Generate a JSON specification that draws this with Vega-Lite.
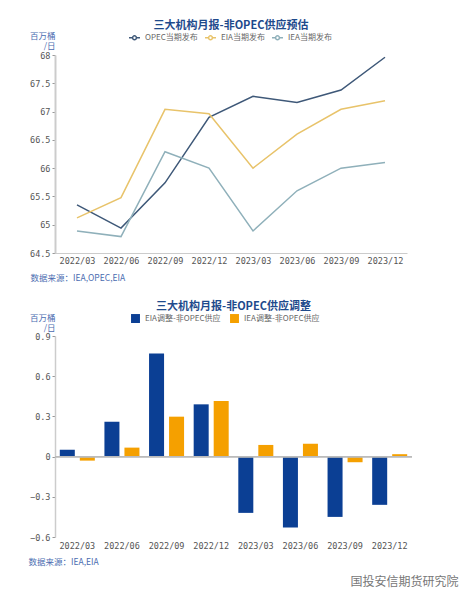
{
  "$schema": "https://vega.github.io/schema/vega-lite/v6.json",
  "background": "white",
  "padding": {"left": 28, "top": 20, "right": 10, "bottom": 8},
  "config": {
    "view": {"stroke": null},
    "font": "Noto Sans CJK SC",
    "axis": {
      "labelFont": "DejaVu Sans Mono",
      "labelFontSize": 8.5,
      "labelColor": "#555555",
      "labelOverlap": false,
      "grid": false,
      "domainColor": "#cccccc",
      "tickColor": "#999999"
    },
    "title": {"font": "Noto Sans CJK SC", "fontSize": 11, "fontWeight": "bold", "color": "#1e4a8c"},
    "legend": {"labelFont": "Noto Sans CJK SC", "labelFontSize": 8, "labelColor": "#666666"}
  },
  "datasets": {
    "forecast": [
      {"month": "2022/03", "series": "OPEC当期发布", "value": 65.35},
      {"month": "2022/06", "series": "OPEC当期发布", "value": 64.94},
      {"month": "2022/09", "series": "OPEC当期发布", "value": 65.74},
      {"month": "2022/12", "series": "OPEC当期发布", "value": 66.9},
      {"month": "2023/03", "series": "OPEC当期发布", "value": 67.27},
      {"month": "2023/06", "series": "OPEC当期发布", "value": 67.16},
      {"month": "2023/09", "series": "OPEC当期发布", "value": 67.38},
      {"month": "2023/12", "series": "OPEC当期发布", "value": 67.96},
      {"month": "2022/03", "series": "EIA当期发布", "value": 65.12},
      {"month": "2022/06", "series": "EIA当期发布", "value": 65.48},
      {"month": "2022/09", "series": "EIA当期发布", "value": 67.04},
      {"month": "2022/12", "series": "EIA当期发布", "value": 66.96},
      {"month": "2023/03", "series": "EIA当期发布", "value": 66.0},
      {"month": "2023/06", "series": "EIA当期发布", "value": 66.6},
      {"month": "2023/09", "series": "EIA当期发布", "value": 67.04},
      {"month": "2023/12", "series": "EIA当期发布", "value": 67.19},
      {"month": "2022/03", "series": "IEA当期发布", "value": 64.89},
      {"month": "2022/06", "series": "IEA当期发布", "value": 64.79},
      {"month": "2022/09", "series": "IEA当期发布", "value": 66.29},
      {"month": "2022/12", "series": "IEA当期发布", "value": 66.0},
      {"month": "2023/03", "series": "IEA当期发布", "value": 64.89},
      {"month": "2023/06", "series": "IEA当期发布", "value": 65.6},
      {"month": "2023/09", "series": "IEA当期发布", "value": 66.0},
      {"month": "2023/12", "series": "IEA当期发布", "value": 66.1}
    ],
    "adjust": [
      {"month": "2022/03", "series": "EIA调整-非OPEC供应", "value": 0.052},
      {"month": "2022/06", "series": "EIA调整-非OPEC供应", "value": 0.26},
      {"month": "2022/09", "series": "EIA调整-非OPEC供应", "value": 0.77},
      {"month": "2022/12", "series": "EIA调整-非OPEC供应", "value": 0.39},
      {"month": "2023/03", "series": "EIA调整-非OPEC供应", "value": -0.42},
      {"month": "2023/06", "series": "EIA调整-非OPEC供应", "value": -0.53},
      {"month": "2023/09", "series": "EIA调整-非OPEC供应", "value": -0.45},
      {"month": "2023/12", "series": "EIA调整-非OPEC供应", "value": -0.36},
      {"month": "2022/03", "series": "IEA调整-非OPEC供应", "value": -0.03},
      {"month": "2022/06", "series": "IEA调整-非OPEC供应", "value": 0.067},
      {"month": "2022/09", "series": "IEA调整-非OPEC供应", "value": 0.298},
      {"month": "2022/12", "series": "IEA调整-非OPEC供应", "value": 0.415},
      {"month": "2023/03", "series": "IEA调整-非OPEC供应", "value": 0.087},
      {"month": "2023/06", "series": "IEA调整-非OPEC供应", "value": 0.095},
      {"month": "2023/09", "series": "IEA调整-非OPEC供应", "value": -0.042},
      {"month": "2023/12", "series": "IEA调整-非OPEC供应", "value": 0.018}
    ]
  },
  "title": {
    "text": "国投安信期货研究院",
    "orient": "bottom",
    "anchor": "end",
    "fontSize": 12,
    "fontWeight": "normal",
    "color": "#777777",
    "dx": 46,
    "offset": 11
  },
  "resolve": {"scale": {"color": "independent"}, "legend": {"color": "independent"}},
  "spacing": 19,
  "vconcat": [
    {
      "width": 352,
      "height": 198,
      "title": {"text": "三大机构月报-非OPEC供应预估", "anchor": "middle", "offset": 0},
      "data": {"name": "forecast"},
      "mark": {"type": "line", "strokeWidth": 1.5},
      "encoding": {
        "x": {
          "field": "month",
          "type": "nominal",
          "sort": null,
          "scale": {"type": "point", "padding": 0.5},
          "axis": {
            "labelAngle": 0,
            "ticks": false,
            "labelPadding": 3,
            "domainColor": "#cccccc",
            "title": "数据来源：IEA,OPEC,EIA",
            "titleFont": "Noto Sans CJK SC",
            "titleFontSize": 8.5,
            "titleFontWeight": "normal",
            "titleColor": "#4a6cb0",
            "titleAnchor": "start",
            "titleAlign": "left",
            "titleX": -25,
            "titleY": 24,
            "titleBaseline": "middle"
          }
        },
        "y": {
          "field": "value",
          "type": "quantitative",
          "scale": {"domain": [64.5, 68], "nice": false, "zero": false},
          "axis": {
            "values": [64.5, 65, 65.5, 66, 66.5, 67, 67.5, 68],
            "format": "~g",
            "tickSize": 3,
            "domainWidth": 2,
            "title": ["百万桶", "/日"],
            "titleFont": "Noto Sans CJK SC",
            "titleFontSize": 8.5,
            "titleFontWeight": "normal",
            "titleColor": "#4a6cb0",
            "titleAngle": 0,
            "titleAlign": "right",
            "titleX": 0,
            "titleY": -17,
            "titleBaseline": "alphabetic",
            "titleLineHeight": 10.5
          }
        },
        "color": {
          "field": "series",
          "type": "nominal",
          "sort": null,
          "scale": {
            "domain": ["OPEC当期发布", "EIA当期发布", "IEA当期发布"],
            "range": ["#3e5878", "#e8c36a", "#8fb0ba"]
          },
          "legend": {
            "orient": "none",
            "legendX": 73,
            "legendY": -24,
            "direction": "horizontal",
            "title": null,
            "symbolType": "M-1,0L-0.35,0M0.35,0L1,0M0.35,0A0.35,0.35 0 1,1 -0.35,0A0.35,0.35 0 1,1 0.35,0",
            "symbolSize": 120,
            "symbolStrokeWidth": 1.5,
            "columnPadding": 4,
            "padding": 0
          }
        }
      }
    },
    {
      "width": 357,
      "height": 201,
      "title": {"text": "三大机构月报-非OPEC供应调整", "anchor": "middle", "offset": 1},
      "data": {"name": "adjust"},
      "layer": [
        {
          "mark": {"type": "bar"},
          "encoding": {
            "x": {
              "field": "month",
              "type": "nominal",
              "sort": null,
              "scale": {"paddingInner": 0, "paddingOuter": 0},
              "axis": {
                "labelAngle": 0,
                "ticks": false,
                "domain": false,
                "labelPadding": 4,
                "title": "数据来源：IEA,EIA",
                "titleFont": "Noto Sans CJK SC",
                "titleFontSize": 8.5,
                "titleFontWeight": "normal",
                "titleColor": "#4a6cb0",
                "titleAnchor": "start",
                "titleAlign": "left",
                "titleX": -27,
                "titleY": 24,
                "titleBaseline": "middle"
              }
            },
            "xOffset": {
              "field": "series",
              "type": "nominal",
              "sort": null,
              "scale": {"paddingInner": 0.25, "paddingOuter": 0.24}
            },
            "y": {
              "field": "value",
              "type": "quantitative",
              "scale": {"domain": [-0.6, 0.9], "nice": false},
              "axis": {
                "values": [-0.6, -0.3, 0, 0.3, 0.6, 0.9],
                "format": "~g",
                "tickSize": 3,
                "domainWidth": 1.5,
                "title": ["百万桶", "/日"],
                "titleFont": "Noto Sans CJK SC",
                "titleFontSize": 8.5,
                "titleFontWeight": "normal",
                "titleColor": "#4a6cb0",
                "titleAngle": 0,
                "titleAlign": "right",
                "titleX": 0,
                "titleY": -16,
                "titleBaseline": "alphabetic",
                "titleLineHeight": 10.5
              }
            },
            "color": {
              "field": "series",
              "type": "nominal",
              "sort": null,
              "scale": {
                "domain": ["EIA调整-非OPEC供应", "IEA调整-非OPEC供应"],
                "range": ["#0b3f94", "#f5a000"]
              },
              "legend": {
                "orient": "none",
                "legendX": 75,
                "legendY": -23,
                "direction": "horizontal",
                "title": null,
                "symbolType": "square",
                "symbolSize": 80,
                "columnPadding": 8,
                "padding": 0
              }
            }
          }
        },
        {
          "mark": {"type": "rule", "color": "#bbbbbb", "strokeWidth": 1},
          "encoding": {"y": {"datum": 0}}
        }
      ]
    }
  ]
}
